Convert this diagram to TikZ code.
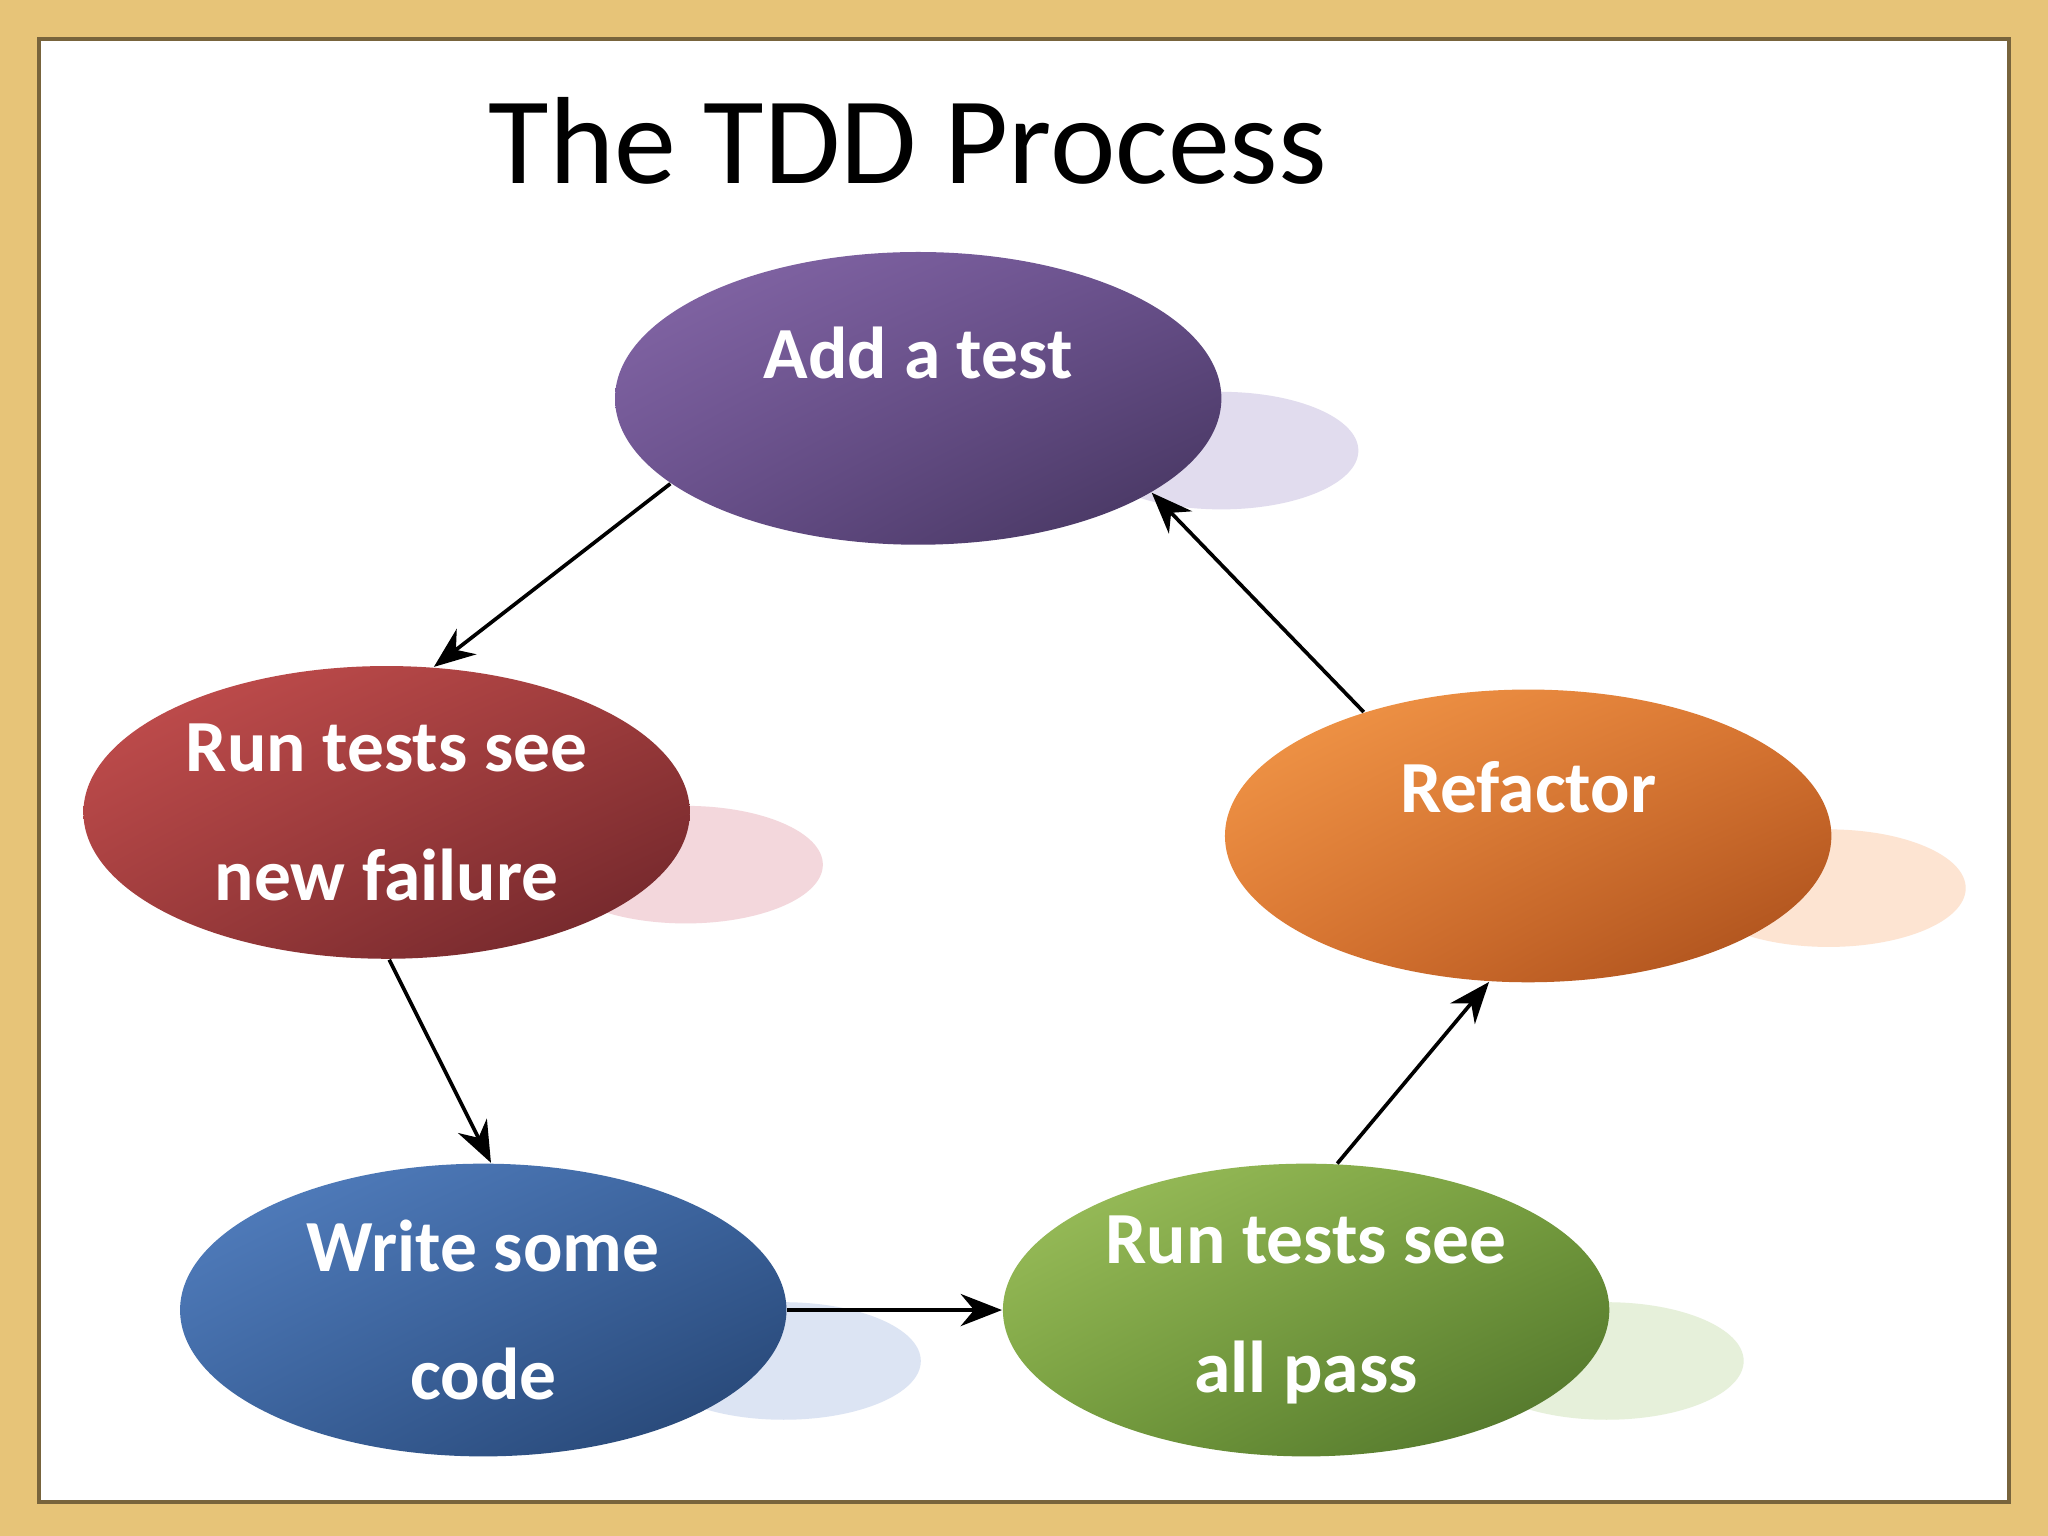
\documentclass[tikz,border=0pt]{standalone}
\usepackage{fontspec}
\setmainfont{Carlito}
\usetikzlibrary{shapes.geometric,arrows.meta,shadings}
\definecolor{gold}{RGB}{231,196,120}
\definecolor{frameline}{RGB}{120,100,60}
\definecolor{shA}{RGB}{225,220,238}
\definecolor{shB}{RGB}{243,215,220}
\definecolor{shC}{RGB}{253,228,210}
\definecolor{shD}{RGB}{220,228,243}
\definecolor{shE}{RGB}{230,240,218}
\definecolor{pA}{RGB}{135,105,170}\definecolor{pB}{RGB}{105,80,140}\definecolor{pC}{RGB}{65,50,90}
\definecolor{rA}{RGB}{200,80,80}\definecolor{rB}{RGB}{158,60,60}\definecolor{rC}{RGB}{105,35,40}
\definecolor{oA}{RGB}{245,155,75}\definecolor{oB}{RGB}{218,118,50}\definecolor{oC}{RGB}{165,75,25}
\definecolor{bA}{RGB}{85,130,195}\definecolor{bB}{RGB}{60,100,158}\definecolor{bC}{RGB}{35,65,110}
\definecolor{gA}{RGB}{160,195,95}\definecolor{gB}{RGB}{118,158,62}\definecolor{gC}{RGB}{75,110,40}
\begin{document}
\begin{tikzpicture}[x=0.01cm,y=-0.01cm,
  step/.style n args={3}{ellipse,minimum width=4.64cm,minimum height=2.24cm,inner sep=0pt,
    text=white,font=\fontsize{16pt}{28pt}\selectfont\bfseries,align=center,
    upper left=#1,upper right=#2,lower left=#2,lower right=#3},
  lbl/.style={text=white,font=\fontsize{16pt}{28pt}\selectfont\bfseries},
  arr/.style={-{Stealth[length=9pt,width=7pt]},line width=0.8pt}]
\fill[gold] (0,0) rectangle (1568,1176);
\filldraw[fill=white,draw=frameline,line width=0.8pt] (30,30) rectangle (1538,1150);
\node[font=\fontsize{27pt}{32pt}\selectfont] (title) at (695,108) {The TDD Process};
% shadows
\fill[shA] (935,345) ellipse (105 and 45);
\fill[shB] (525,662) ellipse (105 and 45);
\fill[shC] (1400,680) ellipse (105 and 45);
\fill[shD] (600,1042) ellipse (105 and 45);
\fill[shE] (1230,1042) ellipse (105 and 45);
% nodes
\node[step={pA}{pB}{pC}] (add) at (703,305) {};
\node[lbl] (addt) at (703,270) {Add a test};
\node[step={rA}{rB}{rC}] (fail) at (296,622) {Run tests see\\new failure};
\node[step={oA}{oB}{oC}] (ref) at (1170,640) {};
\node[lbl] (reft) at (1170,603) {Refactor};
\node[step={bA}{bB}{bC}] (code) at (370,1003) {Write some\\code};
\node[step={gA}{gB}{gC}] (pass) at (1000,1003) {Run tests see\\all pass};
% arrows
\draw[arr] (add.199) -- (fail.72);
\draw[arr] (fail.271) -- (code.87);
\draw[arr] (code.0) -- (pass.180);
\draw[arr] (pass.78) -- (ref.255);
\draw[arr] (ref.143) -- (add.338);
\end{tikzpicture}
\end{document}
